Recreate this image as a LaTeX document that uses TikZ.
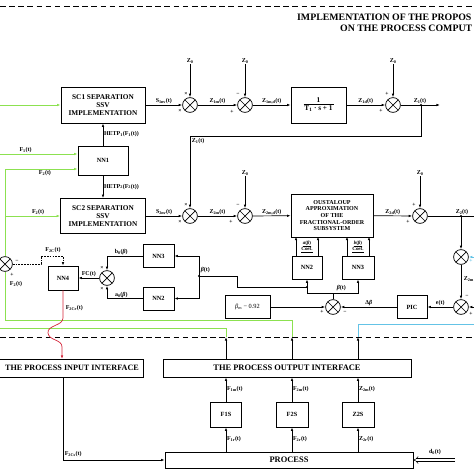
\documentclass[tikz,border=0pt]{standalone}
\usepackage{fontspec}
\setmainfont{Liberation Serif}
\usetikzlibrary{positioning,calc,arrows.meta}

\definecolor{flowgreen}{RGB}{140,225,80}
\definecolor{ctrlred}{RGB}{212,38,58}
\definecolor{levelcyan}{RGB}{100,195,230}

\newcommand{\sgl}[2]{#1\textsubscript{#2}(t)}

\tikzset{
	blk/.style={draw, line width=1.2pt, align=center, inner sep=1pt,
		font=\fontsize{10.4}{11.4}\selectfont\bfseries},
	nnbox/.style={draw, line width=1pt, align=center, inner sep=1pt,
		font=\fontsize{9}{10}\selectfont\bfseries},
	ifbox/.style={draw, line width=1.2pt, inner sep=1pt,
		font=\fontsize{12}{13}\selectfont\bfseries},
	ttl/.style={inner sep=0pt, font=\fontsize{14}{15}\selectfont\bfseries},
	sumj/.style={draw, circle, line width=1pt, minimum size=0.74cm, inner sep=0pt,
		path picture={\draw[line width=1pt]
			(path picture bounding box.north west) -- (path picture bounding box.south east)
			(path picture bounding box.north east) -- (path picture bounding box.south west);}},
	lbl/.style={font=\fontsize{8.5}{9}\selectfont\bfseries, inner sep=1pt},
	sgn/.style={font=\fontsize{8}{8}\selectfont\bfseries, inner sep=0pt},
	wire/.style={line width=1pt},
	sig/.style={wire, -{Latex[length=5pt,width=3.6pt]}},
	flow/.style={line width=1.1pt, flowgreen},
	flowsig/.style={flow, -{Latex[length=5pt,width=3.6pt]}},
	border/.style={line width=1.2pt, dash pattern=on 8pt off 5pt},
	jdot/.style={circle, fill, inner sep=0pt, minimum size=3pt},
}

\begin{document}
\begin{tikzpicture}[x=0.05cm, y=-0.05cm]

	% Proper size --- Bounding box
	\useasboundingbox (0,0) rectangle (474,474);
	\clip (0,0) rectangle (474,474);

	% ------------------------------------------------
	% BORDERS AND TITLE
	% ------------------------------------------------
	\draw[border] (0,6) -- (474,6);
	\draw[border] (0,337) -- (474,337);
	\node[ttl, anchor=west] (ttlA) at (297,17) {IMPLEMENTATION OF THE PROPOS};
	\node[ttl, anchor=west] (ttlB) at (340,28) {ON THE PROCESS COMPUT};

	% ------------------------------------------------
	% FIRST COLUMN (SC1)
	% ------------------------------------------------
	\node[blk, minimum width=4.2cm, minimum height=1.8cm] (sc1) at (103,105) {SC1 SEPARATION\\SSV\\IMPLEMENTATION};
	\node[sumj] (m1) at (190,105) {};
	\node[sumj] (s1) at (245,105) {};
	\node[blk, minimum width=2.75cm, minimum height=1.8cm] (tf) at (318.5,105) {\underline{\makebox[1.5cm]{1}}\\T\textsubscript{1} · s + 1};
	\node[sumj] (s2) at (393,105) {};
	\node[lbl] (z0a) at (190,61) {Z\textsubscript{0}};
	\node[lbl] (z0b) at (245,61) {Z\textsubscript{0}};
	\node[lbl] (z0c) at (393,61) {Z\textsubscript{0}};
	\coordinate (z1br) at (421,105);
	\coordinate (z1end) at (440,105);
	\coordinate (fbk) at (421,136);

	\draw[sig] (sc1) -- (m1) node[lbl, above, midway] {\sgl{S}{1nv}};
	\draw[sig] (m1) -- (s1) node[lbl, above, midway] {\sgl{Z}{1m}};
	\draw[sig] (s1) -- (tf) node[lbl, above, midway] {\sgl{Z}{1m,d}};
	\draw[sig] (tf) -- (s2) node[lbl, above, midway] {\sgl{Z}{1d}};
	\draw[sig] (s2) -- (z1end);
	\node[lbl, above] (z1lbl) at (420,105) {\sgl{Z}{1}};
	\node[jdot] (z1dot) at (z1br) {};
	\draw[sig] (z0a) -- (m1);
	\draw[sig] (z0b) -- (s1);
	\draw[sig] (z0c) -- (s2);

	% ------------------------------------------------
	% NN1 AND SECOND COLUMN (SC2)
	% ------------------------------------------------
	\node[nnbox, minimum width=2.5cm, minimum height=1.45cm] (nn1) at (103,160.5) {NN1};
	\node[blk, minimum width=4.25cm, minimum height=1.75cm] (sc2) at (103,216) {SC2 SEPARATION\\SSV\\IMPLEMENTATION};
	\draw[sig] (nn1) -- (sc1) node[lbl, right, midway] {HETP\textsubscript{1}(F\textsubscript{1}(t))};
	\draw[sig] (nn1) -- (sc2) node[lbl, right, midway] {HETP\textsubscript{2}(F\textsubscript{2}(t))};

	\node[sumj] (m2) at (190,216) {};
	\node[sumj] (s3) at (245,216) {};
	\node[blk, minimum width=4.1cm, minimum height=2.15cm, font=\fontsize{8.6}{9.5}\selectfont\bfseries] (oust) at (332,215.5) {OUSTALOUP\\APPROXIMATION\\OF THE\\FRACTIONAL-ORDER\\SUBSYSTEM};
	\node[sumj] (s4) at (420,216) {};
	\node[lbl] (z0d) at (245,173) {Z\textsubscript{0}};
	\node[lbl] (z0e) at (420,173) {Z\textsubscript{0}};
	\coordinate (z2br) at (461,216);
	\coordinate (z2end) at (480,216);

	\draw[sig] (sc2) -- (m2) node[lbl, above, midway] {\sgl{S}{2nv}};
	\draw[sig] (m2) -- (s3) node[lbl, above, midway] {\sgl{Z}{2m}};
	\draw[sig] (s3) -- (oust) node[lbl, above, midway] {\sgl{Z}{2m,d}};
	\draw[sig] (oust) -- (s4) node[lbl, above, midway] {\sgl{Z}{2d}};
	\draw[wire] (s4) -- (z2end);
	\node[lbl, above] (z2lbl) at (462,216) {\sgl{Z}{2}};
	\node[jdot] (z2dot) at (z2br) {};
	\draw[sig] (z0d) -- (s3);
	\draw[sig] (z0e) -- (s4);

	% Z1 feedback into the second multiplier
	\draw[sig] (z1br) -- (fbk) -| (m2);
	\node[lbl, anchor=west] (z1fb) at (191,141) {\sgl{Z}{1}};

	% ------------------------------------------------
	% FRACTIONAL-ORDER COEFFICIENTS
	% ------------------------------------------------
	\node[nnbox, minimum width=1.5cm, minimum height=1.15cm] (nn2u) at (307,267.5) {NN2};
	\node[nnbox, minimum width=1.6cm, minimum height=1.15cm] (nn3u) at (358,267.5) {NN3};
	\foreach \dx in {-0.55,0.55} {
		\draw[sig] ([xshift=\dx cm]nn2u.north) -- ++(0,-19);
		\draw[sig] ([xshift=\dx cm]nn3u.north) -- ++(0,-19);
	}
	\node[lbl, font=\fontsize{7}{8}\selectfont\bfseries, align=center] (acoef) at (307,246.5) {\underline{\textit{a}(\textit{β})}\\\underline{Coef.}};
	\node[lbl, font=\fontsize{7}{8}\selectfont\bfseries, align=center] (bcoef) at (358,246.5) {\underline{\textit{b}(\textit{β})}\\\underline{Coef.}};

	% ------------------------------------------------
	% LEVEL LOOP, PIC AND BETA
	% ------------------------------------------------
	\node[sumj] (s5) at (461,257) {};
	\node[sumj] (s6) at (461,307) {};
	\node[nnbox, minimum width=1.5cm, minimum height=1.15cm] (pic) at (412,307) {PIC};
	\node[sumj] (s7) at (333,307) {};
	\node[nnbox, minimum width=2.25cm, minimum height=1.15cm, font=\fontsize{9}{10}\selectfont] (bm) at (247.5,307) {\textit{β}\textsubscript{m} − 0.92};
	\coordinate (cin) at (480,257);
	\coordinate (zset) at (480,307);

	\draw[sig] (z2br) -- (s5);
	\draw[sig] (s5) -- (s6);
	\node[lbl, anchor=west] (z2mlbl) at (463,279) {Z\textsubscript{2m}};
	\draw[sig, levelcyan] (cin) -- (s5);
	\draw[sig] (zset) -- (s6);
	\draw[sig] (s6) -- (pic) node[lbl, above, midway] {e(t)};
	\draw[sig] (pic) -- (s7) node[lbl, above, midway] {Δ\textit{β}};
	\draw[sig] (bm) -- (s7);

	\coordinate (bsplit) at (333,293);
	\coordinate (bj) at (307,287);
	\coordinate (bk1) at (237,287);
	\coordinate (bdot) at (199,276);
	\draw[sig] (s7) -- (bsplit) -| (nn2u);
	\draw[sig] (bsplit) -| (nn3u);
	\node[lbl, anchor=west] (bulbl) at (336,288) {\textit{β}(t)};
	\node[jdot] (bjdot) at (bj) {};

	% ------------------------------------------------
	% FEED CONTROL BRANCH (NN2, NN3, NN4)
	% ------------------------------------------------
	\node[nnbox, minimum width=1.55cm, minimum height=1.15cm] (nn3) at (158.5,256) {NN3};
	\node[nnbox, minimum width=1.55cm, minimum height=1.15cm] (nn2) at (158.5,298.5) {NN2};
	\node[sumj] (m3) at (107,278) {};
	\node[nnbox, minimum width=1.5cm, minimum height=1.2cm] (nn4) at (63,278) {NN4};
	\node[sumj] (s8) at (5,264) {};

	\draw[wire] (bj) -- (bk1) |- (bdot);
	\node[jdot] (bdotn) at (bdot) {};
	\node[lbl, anchor=west] (bllbl) at (200,270) {\textit{β}(t)};
	\draw[sig] (bdot) |- (nn3);
	\draw[sig] (bdot) |- (nn2);
	\draw[sig] (nn3) -| (m3) node[lbl, above, pos=0.3] {b\textsubscript{0}(\textit{β})};
	\draw[sig] (nn2) -| (m3) node[lbl, above, pos=0.3] {a\textsubscript{0}(\textit{β})};
	\draw[sig] (m3) -- (nn4) node[lbl, above, midway] {FC(t)};

	\coordinate (dk1) at (41,264);
	\coordinate (dk2) at (41,256);
	\draw[sig, dash pattern=on 2.5pt off 1.5pt] (s8) -- (dk1) -- (dk2) -| (nn4);
	\node[lbl] (f2clbl) at (53,250) {\sgl{F}{2C}};

	% signs at the junctions
	\node[sgn] (g1) at (186,94) {×};   \node[sgn] (g2) at (180,111) {×};
	\node[sgn] (g3) at (238,94) {−};   \node[sgn] (g4) at (232,112) {+};
	\node[sgn] (g5) at (387,94) {+};   \node[sgn] (g6) at (381,111) {+};
	\node[sgn] (g7) at (186,205) {×};  \node[sgn] (g8) at (180,222) {×};
	\node[sgn] (g9) at (238,205) {−};  \node[sgn] (g10) at (231,222) {+};
	\node[sgn] (g11) at (414,205) {+}; \node[sgn] (g12) at (408,222) {+};
	\node[sgn, levelcyan] (g13) at (471,261) {+};
	\node[sgn] (g14) at (467,296) {−}; \node[sgn] (g15) at (471,314) {+};
	\node[sgn] (g16) at (322,312) {+}; \node[sgn] (g17) at (345,312) {−};
	\node[sgn] (g18) at (102,268) {×}; \node[sgn] (g19) at (102,289) {×};
	\node[sgn] (g20) at (17,261) {−};  \node[sgn] (g21) at (12,275) {+};

	% ------------------------------------------------
	% MEASURED FLOWS (green)
	% ------------------------------------------------
	\coordinate (gA) at (0,105);
	\coordinate (gB) at (0,154);
	\coordinate (gC) at (5,169);
	\coordinate (gD) at (5,216);
	\draw[flowsig] (gA) -- (sc1);
	\draw[flowsig] (gB) -- (gB -| nn1.west) node[lbl, black, above, pos=0.33] {\sgl{F}{1}};
	\draw[flowsig] (gC) -- (gC -| nn1.west) node[lbl, black, below, pos=0.55] {\sgl{F}{2}};
	\draw[flowsig] (gD) -- (sc2) node[lbl, black, above, pos=0.6] {\sgl{F}{2}};
	\node[lbl] (f2lbl) at (16,284) {\sgl{F}{2}};

	% ------------------------------------------------
	% PROCESS INTERFACES
	% ------------------------------------------------
	\node[ifbox, minimum width=7.6cm, minimum height=0.9cm] (inif) at (67,368) {};
	\node[ifbox, draw=none, font=\fontsize{11.6}{12}\selectfont\bfseries] (iniftxt) at (72,368) {THE PROCESS INPUT INTERFACE};
	\node[ifbox, minimum width=12.4cm, minimum height=0.9cm] (outif) at (287,368) {THE PROCESS OUTPUT INTERFACE};
	\node[ifbox, minimum width=12.4cm, minimum height=0.8cm] (proc) at (289,460) {PROCESS};
	\node[nnbox, minimum width=1.55cm, minimum height=1.25cm] (f1s) at (226,414.5) {F1S};
	\node[nnbox, minimum width=1.6cm, minimum height=1.25cm] (f2s) at (292,414.5) {F2S};
	\node[nnbox, minimum width=1.6cm, minimum height=1.25cm] (z2s) at (358,414.5) {Z2S};

	\draw[sig] (proc.north -| f1s) -- (f1s) node[lbl, right, midway] {\sgl{F}{1r}};
	\draw[sig] (proc.north -| f2s) -- (f2s) node[lbl, right, midway] {\sgl{F}{2r}};
	\draw[sig] (proc.north -| z2s) -- (z2s) node[lbl, right, midway] {\sgl{Z}{2r}};
	\draw[sig] (f1s) -- (outif.south -| f1s) node[lbl, right, midway] {\sgl{F}{1m}};
	\draw[sig] (f2s) -- (outif.south -| f2s) node[lbl, right, midway] {\sgl{F}{2m}};
	\draw[sig] (z2s) -- (outif.south -| z2s) node[lbl, right, midway] {\sgl{Z}{2m}};

	\coordinate (o1) at (226,337);
	\coordinate (o2) at (292,337);
	\coordinate (o3) at (358,337);
	\draw[sig] (outif.north -| o1) -- (o1);
	\draw[sig] (outif.north -| o2) -- (o2);
	\draw[sig] (outif.north -| o3) -- (o3);
	\draw[flow] (o1) -- (226,328) -- (0,328);
	\draw[flow] (o2) -- (292,320) -- (5,320) -- (s8);
	\draw[flow] (s8) -- (gC);
	\draw[line width=1.1pt, levelcyan] (o3) -- (358,324) -- (480,324);

	% control action down to the process (red)
	\coordinate (r1) at (63,318);
	\coordinate (r2) at (48,333);
	\coordinate (r3) at (62,347);
	\coordinate (r4) at (62,359);
	\draw[sig, ctrlred] (nn4) -- (r1) .. controls (63,326) and (47,325) .. (r2) .. controls (49,341) and (62,339) .. (r3) -- (r4);
	\node[lbl, anchor=west] (f2crlbl) at (65,308) {\sgl{F}{2Cr}};

	\coordinate (pin) at (63,460);
	\draw[sig] (inif.south -| pin) -- (pin) -- (proc);
	\node[lbl, anchor=south west] (f2cslbl) at (64,458) {\sgl{F}{2Cs}};

	% disturbance
	\coordinate (dist) at (455,460);
	\draw[line width=0.7pt, double distance=3pt, -{Implies}] (dist) -- (proc);
	\node[lbl] (d0lbl) at (435,452) {\sgl{d}{0}};

\end{tikzpicture}
\end{document}
